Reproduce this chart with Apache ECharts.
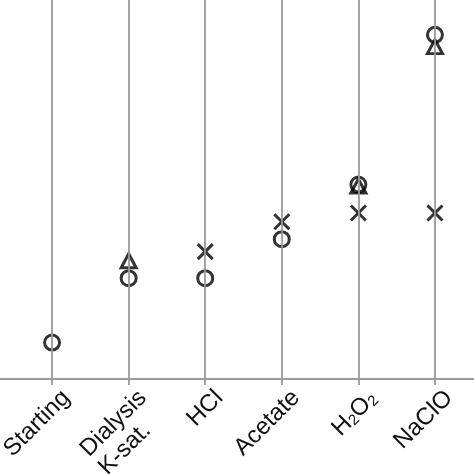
<!DOCTYPE html>
<html>
<head>
<meta charset="utf-8">
<script src="https://cdn.jsdelivr.net/npm/echarts@6/dist/echarts.min.js"></script>
<style>html,body{margin:0;padding:0;background:#fff}#c{width:474px;height:474px}</style>
</head>
<body>
<div id="c"></div>
<script>
var categories = ['Starting', 'Dialysis\nK-sat.   ', 'HCl', 'Acetate', 'H2O2', 'NaClO'];
var circleValues = [9.6, 26.6, 26.6, 36.9, 51.3, 90.8];
var triangleValues = [null, 31.2, null, null, 50.9, 87.7];
var crossValues = [null, null, 33.6, 41.5, 43.8, 43.8];
var tickPositions = [0, 1, 2, 3, 4, 5];

function pairs(vals) {
  var out = [];
  vals.forEach(function (v, i) { if (v !== null) out.push([i, v]); });
  return out;
}

var chart = echarts.init(document.getElementById('c'), null, {renderer: 'canvas'});
var markerStyle = {color: 'none', borderColor: '#000', borderWidth: 3};
chart.setOption({
  animation: false,
  grid: {left: 0, right: 0, top: 0, bottom: 95, containLabel: false, outerBoundsMode: 'none'},
  xAxis: {
    type: 'value',
    min: -0.68,
    max: 5.51,
    splitLine: {show: false},
    axisLine: {show: true, lineStyle: {color: '#9a9a9a', width: 1.8}},
    axisTick: {show: true, customValues: tickPositions, length: 6, lineStyle: {color: '#9a9a9a', width: 1.8}},
    axisLabel: {
      customValues: tickPositions,
      rotate: 45,
      margin: 11,
      padding: [0, -7, 0, 0],
      verticalAlign: 'top',
      fontFamily: 'Liberation Sans',
      fontSize: 24,
      color: '#111',
      lineHeight: 26,
      formatter: function (v) {
        var c = categories[Math.round(v)];
        if (c === 'H2O2') return '{n|H}{s|2}{n|O}{s|2}';
        return c;
      },
      rich: {
        n: {fontFamily: 'Liberation Sans', fontSize: 24, color: '#111', verticalAlign: 'bottom', lineHeight: 26},
        s: {fontFamily: 'Liberation Sans', fontSize: 15, color: '#111', verticalAlign: 'bottom', lineHeight: 26}
      }
    }
  },
  yAxis: {type: 'value', min: 0, max: 100, show: false},
  series: [
    {
      type: 'scatter', data: [], silent: true,
      markLine: {
        silent: true, symbol: 'none', label: {show: false},
        lineStyle: {color: '#9a9a9a', width: 1.8, type: 'solid'},
        data: tickPositions.map(function (p) { return {xAxis: p}; })
      }
    },
    {type: 'scatter', symbol: 'circle', symbolSize: 15, itemStyle: markerStyle, data: pairs(circleValues), z: 3},
    {type: 'scatter', symbol: 'triangle', symbolSize: [15, 14], itemStyle: markerStyle, data: pairs(triangleValues), z: 3},
    {type: 'scatter', symbol: 'path://M0,0L10,10M10,0L0,10', symbolSize: 15, itemStyle: markerStyle, data: pairs(crossValues), z: 3}
  ]
});
</script>
</body>
</html>
